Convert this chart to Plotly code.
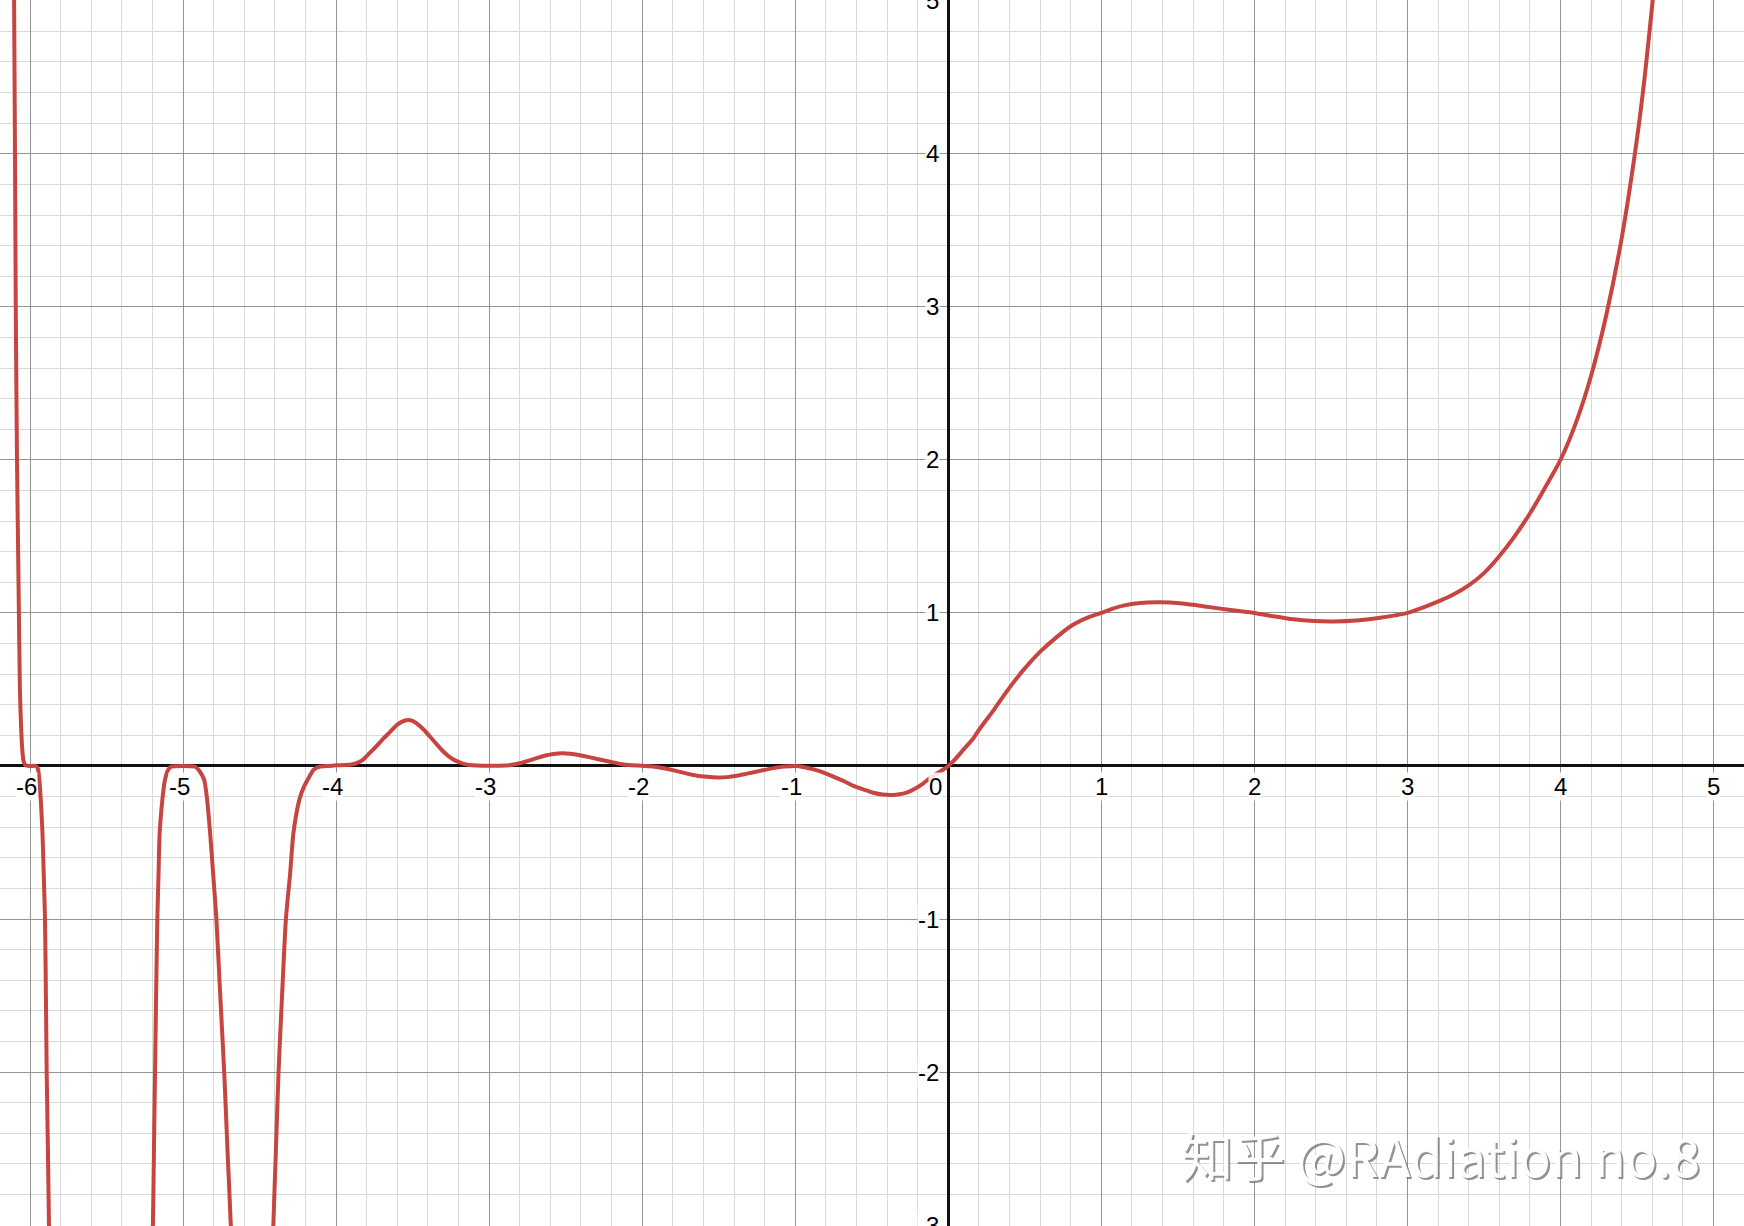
import plotly.graph_objects as go

# Curve samples (None marks where the curve leaves the view)
x_vals = [
    -6.105, -6.098, -6.093, -6.085, -6.075, -6.066, -6.058, -6.05, -6.042, -6.03, -6.0, -5.96,
    -5.948, -5.938, -5.928, -5.918, -5.909, -5.902, -5.896, -5.891, -5.883, -5.876, -5.872, None,
    -5.205, -5.197, -5.19, -5.183, -5.176, -5.168, -5.16, -5.153, -5.135, -5.12, -5.10, -5.08, -5.0,
    -4.92, -4.895, -4.862, -4.845, -4.823, -4.80, -4.782, -4.757, -4.731, -4.71, -4.688, -4.683, None,
    -4.414, -4.41, -4.393, -4.376, -4.353, -4.328, -4.30, -4.279, -4.24, -4.212, -4.186, -4.147, -4.11,
    -4.05, -4.0, -3.9, -3.85, -3.82, -3.78, -3.736, -3.69, -3.65, -3.60, -3.55, -3.53, -3.50, -3.476,
    -3.43, -3.39, -3.35, -3.303, -3.26, -3.216, -3.17, -3.13, -3.0, -2.87, -2.80, -2.74, -2.68, -2.632,
    -2.58, -2.524, -2.47, -2.416, -2.35, -2.286, -2.21, -2.141, -2.07, -2.0, -1.93, -1.859, -1.78,
    -1.707, -1.64, -1.576, -1.51, -1.446, -1.38, -1.315, -1.23, -1.141, -1.07, -1.0, -0.94, -0.88,
    -0.81, -0.75, -0.68, -0.62, -0.55, -0.489, -0.43, -0.38, -0.33, -0.272, -0.215, -0.163, -0.12,
    -0.07, -0.035, 0.0, 0.05, 0.1, 0.163, 0.207, 0.3, 0.381, 0.49, 0.599, 0.708, 0.817, 0.926, 1.0,
    1.07, 1.144, 1.253, 1.383, 1.514, 1.6, 1.688, 1.819, 1.9, 2.0, 2.124, 2.255, 2.386, 2.516, 2.669,
    2.821, 2.92, 3.0, 3.126, 3.214, 3.3, 3.4, 3.5, 3.6, 3.7, 3.8, 3.9, 4.0, 4.1, 4.2, 4.3, 4.4, 4.5,
    4.55, 4.6, 4.65,
]
y_vals = [
    5.2, 4.0, 3.0, 2.0, 1.2, 0.5, 0.25, 0.1, 0.03, 0.005, 0.0, 0.0,
    -0.02, -0.1, -0.25, -0.45, -0.75, -1.0, -1.5, -2.0, -2.5, -3.0, -3.2, None,
    -3.2, -3.0, -2.5, -2.0, -1.5, -1.0, -0.7, -0.44, -0.22, -0.1, -0.03, -0.005, 0.0,
    -0.005, -0.03, -0.09, -0.2, -0.44, -0.75, -1.0, -1.5, -2.0, -2.5, -3.0, -3.2, None,
    -3.2, -3.0, -2.5, -2.0, -1.5, -1.0, -0.7, -0.44, -0.22, -0.14, -0.09, -0.025, -0.005,
    0.0, 0.004, 0.01, 0.025, 0.045, 0.085, 0.13, 0.18, 0.22, 0.27, 0.297, 0.30, 0.295, 0.28,
    0.24, 0.196, 0.15, 0.098, 0.06, 0.033, 0.015, 0.007, 0.002, 0.005, 0.018, 0.035, 0.055, 0.068,
    0.078, 0.083, 0.08, 0.072, 0.058, 0.044, 0.028, 0.013, 0.005, 0.002, -0.004, -0.015, -0.032,
    -0.05, -0.064, -0.071, -0.075, -0.073, -0.064, -0.05, -0.032, -0.014, -0.004, 0.0, -0.008, -0.022,
    -0.045, -0.07, -0.10, -0.13, -0.155, -0.175, -0.187, -0.19, -0.186, -0.174, -0.147, -0.113, -0.08,
    -0.046, -0.025, 0.0, 0.05, 0.108, 0.18, 0.245, 0.37, 0.486, 0.626, 0.745, 0.842, 0.924, 0.976, 1.0,
    1.027, 1.048, 1.065, 1.069, 1.063, 1.053, 1.041, 1.022, 1.012, 1.0, 0.978, 0.958, 0.947, 0.944, 0.950,
    0.968, 0.984, 1.0, 1.045, 1.08, 1.12, 1.18, 1.26, 1.37, 1.5, 1.65, 1.82, 2.0, 2.24, 2.55, 2.95, 3.45, 4.1,
    4.5, 4.98, 5.5,
]

x_ticks = [-6, -5, -4, -3, -2, -1, 1, 2, 3, 4, 5]
y_ticks = [-3, -2, -1, 1, 2, 3, 4, 5]
x_range = [-6.196, 5.199]
y_range = [-3.006, 5.005]
watermark = "知乎 @RAdiation no.8"

fig = go.Figure()
fig.add_trace(go.Scatter(
    x=x_vals, y=y_vals, mode="lines",
    line=dict(color="#c74440", width=4, shape="spline", smoothing=0.6),
    connectgaps=False, hoverinfo="skip", showlegend=False,
))

label_font = dict(family="Liberation Sans, Arial, sans-serif", size=24, color="#000000")
annotations = []
for t in x_ticks:
    annotations.append(dict(
        x=t, y=0, xref="x", yref="y", text=str(t), showarrow=False,
        font=label_font, xanchor="center", yanchor="top",
        xshift=-4 if t < 0 else 0, yshift=-6,
        bgcolor="rgba(255,255,255,0.85)", borderpad=0,
    ))
annotations.append(dict(
    x=0, y=0, xref="x", yref="y", text="0", showarrow=False,
    font=label_font, xanchor="right", yanchor="top", xshift=-5, yshift=-6,
    bgcolor="rgba(255,255,255,0.85)", borderpad=0,
))
for t in y_ticks:
    annotations.append(dict(
        x=0, y=t, xref="x", yref="y", text=str(t), showarrow=False,
        font=label_font, xanchor="right", yanchor="middle", xshift=-8,
        bgcolor="rgba(255,255,255,0.85)", borderpad=0,
    ))
# watermark: grey shadow + white face
annotations.append(dict(
    x=0.976, y=0.058, xref="paper", yref="paper", text=watermark, showarrow=False,
    font=dict(family="Noto Sans CJK SC, Noto Sans, sans-serif", size=52, color="rgba(110,110,110,0.75)"),
    xanchor="right", yanchor="middle", xshift=2, yshift=-2,
))
annotations.append(dict(
    x=0.976, y=0.058, xref="paper", yref="paper", text=watermark, showarrow=False,
    font=dict(family="Noto Sans CJK SC, Noto Sans, sans-serif", size=52, color="rgba(255,255,255,0.97)"),
    xanchor="right", yanchor="middle",
))

axis_common = dict(
    dtick=1, tick0=0, showgrid=True, gridcolor="#959595", gridwidth=1.3,
    zeroline=True, zerolinecolor="#111111", zerolinewidth=3,
    showticklabels=False, ticks="", showline=False,
    minor=dict(dtick=0.2, tick0=0, showgrid=True, gridcolor="#d9d9d9", gridwidth=1),
)
fig.update_xaxes(range=x_range, **axis_common)
fig.update_yaxes(range=y_range, **axis_common)
fig.update_layout(
    width=1744, height=1226,
    margin=dict(l=0, r=0, t=0, b=0),
    paper_bgcolor="white", plot_bgcolor="white",
    annotations=annotations, showlegend=False,
)
fig.write_html(
    "out.html",
    config={"displayModeBar": False},
    post_script="document.body.style.margin='0';document.body.style.overflow='hidden';",
)
